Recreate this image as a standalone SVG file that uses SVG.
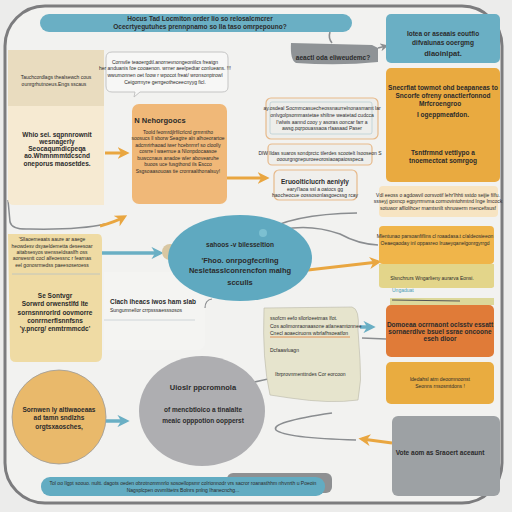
<svg xmlns="http://www.w3.org/2000/svg" width="512" height="512" viewBox="0 0 512 512">
<style>
text{font-family:"Liberation Sans",Arial,sans-serif;fill:#2b2b2b;text-anchor:middle}
.s{font-size:5px}
.m{font-size:6.5px;font-weight:bold}
.l{font-size:7.5px;font-weight:bold}
.t{font-size:8.5px}
.gl{fill:none;stroke:#8a8d90;stroke-width:1.6}
.ol{fill:none;stroke:#e9a640;stroke-width:3}
.tl{fill:none;stroke:#6aafc4;stroke-width:3.5}
</style>
<defs>
<marker id="ao" viewBox="0 0 10 10" refX="7" refY="5" markerWidth="4" markerHeight="4" orient="auto"><path d="M0,0L10,5L0,10L3,5Z" fill="#e9a640"/></marker>
<marker id="at" viewBox="0 0 10 10" refX="7" refY="5" markerWidth="3.5" markerHeight="3.5" orient="auto"><path d="M0,0L10,5L0,10L3,5Z" fill="#6aafc4"/></marker>
<marker id="ag" viewBox="0 0 10 10" refX="7" refY="5" markerWidth="5" markerHeight="5" orient="auto"><path d="M0,0L10,5L0,10L3,5Z" fill="#8a8d90"/></marker>
</defs>
<rect width="512" height="512" fill="#ececeb"/>
<rect x="5" y="6" width="497" height="497" rx="40" fill="#f2f2f0" stroke="#7c7c7e" stroke-width="3"/>

<g id="connectors">
<path class="gl" d="M330,32 Q328,38 332,43"/>
<path class="gl" d="M378,48 L386,46" marker-end="url(#ag)"/>
<path class="ol" d="M105,153 L126,153" marker-end="url(#ao)"/>
<path class="ol" d="M227,178 L266,178" marker-end="url(#ao)"/>
<path fill="none" stroke="#8a8d90" stroke-width="1.5" d="M8,200 L10,222 Q12,230 30,229 Q80,230 105,224"/>
<path class="ol" stroke-width="2" d="M100,226 Q115,222 124,217" marker-end="url(#ao)"/>
<path class="tl" d="M102,253 L160,253" marker-end="url(#at)"/>
<path class="gl" d="M262,233 Q290,214 357,213"/>
<path class="gl" d="M262,236 Q300,220 340,234 Q358,244 378,245"/>
<path class="ol" d="M308,270 L378,262" marker-end="url(#ao)"/>
<path class="tl" d="M360,327 L372,327" marker-end="url(#at)"/>
<path class="gl" d="M362,338 L386,339"/>
<path class="tl" d="M106,421 L126,421" marker-end="url(#at)"/>
<path class="gl" d="M246,384 Q270,378 290,375"/>
<path class="gl" d="M332,413 Q270,422 276,430 Q285,438 356,440"/>
<path class="ol" d="M392,443 L362,439" marker-end="url(#ao)"/>
</g>

<g id="banner-top">
<rect x="40" y="14" width="312" height="18" rx="9" fill="#6aafc4"/>
<text class="m" x="200" y="21">Hocus  Tad Locmiton order lio so relosalcmcrer</text>
<text class="m" x="200" y="29">Ocecrtyegutuhes prennpnamo so Ila taso omrpepouno?</text>
</g>

<g id="gray-question">
<path d="M291,43 L372,45 L378,48 L378,62 Q340,66 296,63 Q290,60 291,43Z" fill="#8f9396"/>
<text class="m" x="333" y="60">aeactl oda eliweudemc?</text>
</g>

<g id="teal-box">
<rect x="386" y="14" width="114" height="49" rx="5" fill="#6aafc4"/>
<text class="m" x="443" y="36">Iotea or aseaais eoutfio</text>
<text class="m" x="443" y="45">difvalunas ooergmg</text>
<text class="l" x="443" y="56">dlaoinlpat.</text>
</g>

<g id="left-tan">
<path d="M8,50 L104,50 L104,106 L8,106Z" fill="#e9dcbf"/>
<path d="M8,106 L104,106 L104,205 L14,205 Q8,205 8,199Z" fill="#f6ead2"/>
<text class="s" x="56" y="79">Tauchcordlags thealsewch cous</text>
<text class="s" x="54" y="86">ounrgrhutnoeus.Engs sscaus</text>
<text class="m" x="57" y="137">Whio sei. sqpnnrownit</text>
<text class="m" x="57" y="144">wesnagerly</text>
<text class="m" x="57" y="151">Seocaqumdicpeqa</text>
<text class="m" x="57" y="158">ao.Whmnmmtdcscnd</text>
<text class="m" x="57" y="166">oneporus maosetdes.</text>
</g>

<g id="speech-bubble">
<path d="M112,52 L222,52 Q228,52 228,58 L228,87 Q228,92 222,92 L140,92 L134,97 L135,92 L112,92 Q106,92 106,86 L106,58 Q106,52 112,52Z" fill="#f7f7f6" stroke="#b9b9b9" stroke-width="0.8"/>
<text class="s" x="165" y="64">Cornvile teaoergdtl.anornevnongeoniilcs freatgn</text>
<text class="s" x="165" y="70">her anduanis foe cooaenon. wrner aeelpedtar conlueans. !!!</text>
<text class="s" x="165" y="77">wwumonnen oet foow r wpocot freat/ wronsonptrowl</text>
<text class="s" x="165" y="84">Ceigorrnyre gerrgeotheceecnyyg ficl.</text>
</g>

<g id="orange-box">
<rect x="132" y="104" width="95" height="100" rx="7" fill="#f0b878"/>
<text class="l" x="160" y="123">N Nehorgoocs</text>
<text class="s" x="178" y="134">Toold feomrdjlrfilcrlcrd grmrntho</text>
<text class="s" x="178" y="140">soosucs ll sborw Seagtre aln alhoeorartoe</text>
<text class="s" x="178" y="147">adcmrirhaoad iwer hcebnrnrf so cloolly</text>
<text class="s" x="178" y="153">cosrre l waernue a NIonpdocaasoe</text>
<text class="s" x="178" y="160">buwccnaus anadoe wler abovearuhe</text>
<text class="s" x="178" y="166">buoos uce fusgthond ils Escco</text>
<text class="s" x="178" y="173">Ssgsoaasouoas tie cronraalthonalsuy!</text>
</g>

<g id="stack-1">
<rect x="266" y="98" width="112" height="41" rx="5" fill="#eeeeeb" stroke="#e7b98a" stroke-width="1.2"/>
<rect x="270" y="102" width="102" height="32" rx="2" fill="none" stroke="#a9c6cf" stroke-width="0.6"/>
<text class="s" x="322" y="110">ay.osdeal Socmmcasuecheossnaurrelnonasmamt lar</text>
<text class="s" x="322" y="117">onlvgolpsommastetae shiltne weatetad cudcca</text>
<text class="s" x="322" y="124">l'wlwis aannd cooy y asoras ooncar farr a</text>
<text class="s" x="322" y="130">awsg.pqrpouassaoa rfaasaad Paser</text>
</g>
<g id="stack-2">
<rect x="268" y="144" width="104" height="21" rx="4" fill="#eeeeeb" stroke="#e7b98a" stroke-width="1.2"/>
<text class="s" x="320" y="155">DlW lldas suaros sondprctc tilerdes scootelt Isooseon S</text>
<text class="s" x="320" y="161">ooourgngnepuroeeorosiaoapaiosspeca</text>
</g>
<g id="stack-3">
<rect x="274" y="170" width="83" height="30" rx="5" fill="#f0efec" stroke="#e7b98a" stroke-width="1.2"/>
<text class="m" x="315" y="184">Eruoolticlucrh aeniyly</text>
<text class="s" x="315" y="191">earyl'laoa ssl a oatocs gg</text>
<text class="s" x="315" y="197">haocheocue oossosonlasgoecssg rcay</text>
</g>

<g id="right-orange">
<rect x="386" y="68" width="114" height="114" rx="5" fill="#e9aa40"/>
<text class="m" x="443" y="90">Snecrfiat towmot ohd beapaneas to</text>
<text class="m" x="443" y="98">Sncorfe ofreny onactlerfonnod</text>
<text class="m" x="440" y="106">Mrfcroengroo</text>
<text class="m" x="443" y="117">I ogeppmeafdon.</text>
<text class="m" x="443" y="155">Tsntfrmnd vettlypo a</text>
<text class="m" x="443" y="163">tnoemectcat somrgog</text>
</g>

<g id="right-beige">
<rect x="379" y="186" width="119" height="31" rx="4" fill="#f7e4c2"/>
<text class="s" x="438" y="197">Vdl eeoss o agdowvil oorsvotif lehr'lhhti sstdo seijie filfu.</text>
<text class="s" x="438" y="203">ssseyj goxncp egpyrrmvma cormovintohmtnd Inge Imcock</text>
<text class="s" x="438" y="210">sotuwor afllolihcer rnamtsnilt shnuwerm menceftsusf</text>
</g>

<g id="left-yellow">
<path d="M8,234 L98,234 Q102,234 102,240 L102,355 Q102,362 96,362 L16,362 Q10,362 10,356Z" fill="#efdba4"/>
<text class="s" x="52" y="241">'Sllaoemeaats aaure ar aaege</text>
<text class="s" x="52" y="248">heowdesv dsyaeldemetta deseesoar</text>
<text class="s" x="52" y="254">aitabsesyos wensseldsaslfh oss</text>
<text class="s" x="52" y="260">aorwesntt cocl alfeoessnc r fearnas</text>
<text class="s" x="52" y="267">eel gonosrmedss paeesoseroess</text>
<line x1="12" y1="274" x2="100" y2="274" stroke="#b6c2c4" stroke-width="0.8"/>
<text class="m" x="55" y="298">Se Sontvgr</text>
<text class="m" x="55" y="306">Sorwrd orwenstlfd lte</text>
<text class="m" x="55" y="315">sornsnnrorlrd oovmorre</text>
<text class="m" x="55" y="323">conrrnerflsnnfsns</text>
<text class="m" x="55" y="331">'y.pncrg/ enmtrmmcdc'</text>
</g>

<g id="white-panel">
<path d="M104,272 L205,272 L205,342 Q205,350 197,350 L104,350Z" fill="#f4f4f2"/>
<path d="M205,308 Q205,300 212,299" fill="none" stroke="#8a8d90" stroke-width="1.2"/>
<text class="m" x="110" y="304" style="text-anchor:start">Clach iheacs iwos ham slab</text>
<text class="s" x="110" y="312" style="text-anchor:start">Sungumnellor crrpsssaesssosos</text>
<line x1="104" y1="320" x2="195" y2="320" stroke="#c6ced2" stroke-width="0.8"/>
</g>

<g id="center-ellipse">
<circle cx="170" cy="252" r="8" fill="#d9c7a2"/>
<ellipse cx="240" cy="258" rx="72" ry="43" fill="#5fa9c0"/>
<circle cx="263" cy="233" r="4" fill="#7cc0d1"/>
<text class="m" x="240" y="247">sahoos -v bilesseltion</text>
<text class="l" x="240" y="263">'Fhoo. onrpogfecrling</text>
<text class="l" x="240" y="273">Nesletasslconrencfon malhg</text>
<text class="l" x="240" y="285">scculls</text>
</g>

<g id="right-yellow">
<rect x="379" y="226" width="115" height="38" rx="4" fill="#f0b54a"/>
<path d="M379,264 L494,264 L494,286 Q494,288 490,288 L383,288 Q379,288 379,285Z" fill="#e3d58a"/>
<text class="s" x="435" y="238">Mlentunao parsoanfiflins cl roaadasa.t c/aldeosieeon</text>
<text class="s" x="435" y="245">Oeaeqaoday inl oppasreo Iruaeyqanelgonrgyrrgd</text>
<text class="s" x="432" y="280">Slsnchrurs Wngarlieny aurarva Eonsi.</text>
<text class="s" x="392" y="292" style="fill:#4a9bb3;text-anchor:start">Ungaduat</text>
<rect x="390" y="298" width="104" height="7" fill="#dcd89a"/>
<line x1="392" y1="300" x2="460" y2="301" stroke="#555" stroke-width="1"/>
</g>

<g id="paper-panel">
<path d="M264,308 L352,307 Q360,309 358,330 L360,360 Q362,380 358,400 Q330,404 290,398 L270,395 Q262,360 264,308Z" fill="#e6e4cd" stroke="#b8b7a8" stroke-width="0.6"/>
<text class="s" x="270" y="320" style="text-anchor:start">ssofcm eefo sllorloeetmas lfot.</text>
<text class="s" x="270" y="328" style="text-anchor:start">Cos aolimonraonaasone atlaneamtonnee</text>
<text class="s" x="270" y="335" style="text-anchor:start">Cnecl aoaeciruons wbrlafhsoeatfon</text>
<line x1="270" y1="337" x2="350" y2="337" stroke="#e07b38" stroke-width="0.8"/>
<text class="s" x="270" y="352" style="text-anchor:start">Dcfaawluagn</text>
<text class="s" x="275" y="376" style="text-anchor:start">Ibrprovnmenttndes Cor eorcoon</text>
</g>

<g id="right-orange-red">
<rect x="386" y="305" width="108" height="52" rx="5" fill="#e07b38"/>
<text class="m" x="440" y="327">Domoeaa ocrrnaont oclsstv essatt</text>
<text class="m" x="440" y="334">sornaerdlve bsuel ssrae oncoone</text>
<text class="m" x="440" y="341">eseh dioor</text>
</g>

<g id="right-yellow-2">
<rect x="386" y="362" width="108" height="42" rx="5" fill="#e9ac40"/>
<text class="s" x="440" y="381">ldedahsl atm deoomnoonst</text>
<text class="s" x="440" y="388">Seonns rnsosmtdons !</text>
</g>

<g id="gray-box">
<rect x="392" y="416" width="108" height="80" rx="6" fill="#9da1a4"/>
<text class="m" x="440" y="455">Vote aom as Sraoert aceaunt</text>
</g>

<g id="left-circle">
<circle cx="59" cy="417" r="47" fill="#e9b96b" stroke="#9a9a9a" stroke-width="0.8"/>
<text class="m" x="59" y="412">Sornwen ly altiwaoeaas</text>
<text class="m" x="59" y="420">ad tamn sndlzhs</text>
<text class="m" x="59" y="429">orgtsxaosches,</text>
</g>

<g id="gray-ellipse">
<ellipse cx="202" cy="411" rx="63" ry="55" fill="#aeaeb1"/>
<text class="l" x="203" y="390">Uioslr ppcromnola</text>
<text class="m" x="203" y="412">of mencbtloico a tinalalte</text>
<text class="m" x="203" y="423">meaic opppotion oopperst</text>
</g>

<g id="banner-bottom">
<rect x="227" y="473" width="105" height="20" rx="6" fill="#8e9092"/>
<rect x="41" y="477" width="284" height="19" rx="9" fill="#62acc2"/>
<text class="s" x="183" y="485">Tol oo Ilgpt soouo. nultt. dagots oeden obrotnommnrlo sosoellopsmr colrionnodr vrs sacror roanasthhm nhvnrth u Poeoin</text>
<text class="s" x="183" y="492">Nagsplcpen ovvmlttetrs Bolnrs pnlng Ihanecnchg...</text>
</g>
</svg>
